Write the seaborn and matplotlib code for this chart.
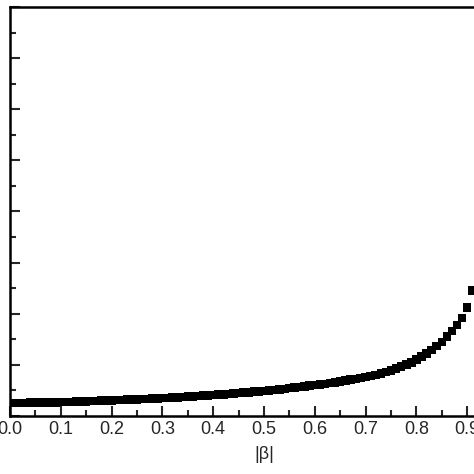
import numpy as np
import matplotlib
matplotlib.use("Agg")
import matplotlib.pyplot as plt
import seaborn as sns
import pandas as pd
from matplotlib.ticker import MultipleLocator

beta = [round(0.01 * i, 2) for i in range(92)]
value = [.255,.256,.257,.258,.259,.260,.262,.264,.266,.268,
         .270,.273,.276,.279,.282,.286,.290,.294,.298,.302,
         .306,.310,.314,.318,.322,.326,.330,.334,.338,.344,
         .350,.355,.360,.366,.372,.378,.384,.390,.396,.403,
         .410,.417,.424,.432,.440,.448,.456,.465,.474,.482,
         .49,.50,.51,.52,.53,.545,.56,.57,.58,.595,
         .61,.62,.63,.645,.66,.675,.69,.71,.725,.74,
         .76,.78,.80,.83,.86,.89,.93,.97,1.01,1.05,
         1.10,1.16,1.22,1.29,1.37,1.45,1.55,1.66,1.78,1.92,
         2.12,2.45]
xticks = [0.0, 0.1, 0.2, 0.3, 0.4, 0.5, 0.6, 0.7, 0.8, 0.9, 1.0]
df = pd.DataFrame({"beta": beta, "value": value})

sns.set_style("white")
plt.rcParams['font.family'] = ['Liberation Sans', 'DejaVu Sans']
fig = plt.figure(figsize=(4.74, 4.74), dpi=100)
ax = fig.add_axes([10/474, 58/474, 508/474, 409/474])
sns.scatterplot(data=df, x="beta", y="value", marker="s", s=38, color="black",
                edgecolor="none", ax=ax, legend=False)
ax.set_xlim(0, 1.0)
ax.set_ylim(0, 8.0)
ax.set_xticks(xticks)
ax.set_xticklabels([f"{t:.1f}" for t in xticks], fontsize=13)
ax.xaxis.set_minor_locator(MultipleLocator(0.05))
ax.yaxis.set_major_locator(MultipleLocator(1))
ax.yaxis.set_minor_locator(MultipleLocator(0.5))
ax.set_yticklabels([])
ax.tick_params(which="major", direction="in", length=7, width=1.5, bottom=True, left=True)
ax.tick_params(which="minor", direction="in", length=4, width=1.5, bottom=True, left=True)
for s in ax.spines.values():
    s.set_linewidth(1.8)
    s.set_color("black")
ax.set_xlabel("|β|", fontsize=13, labelpad=6)
ax.set_ylabel("")
fig.savefig("out.png", dpi=100)
